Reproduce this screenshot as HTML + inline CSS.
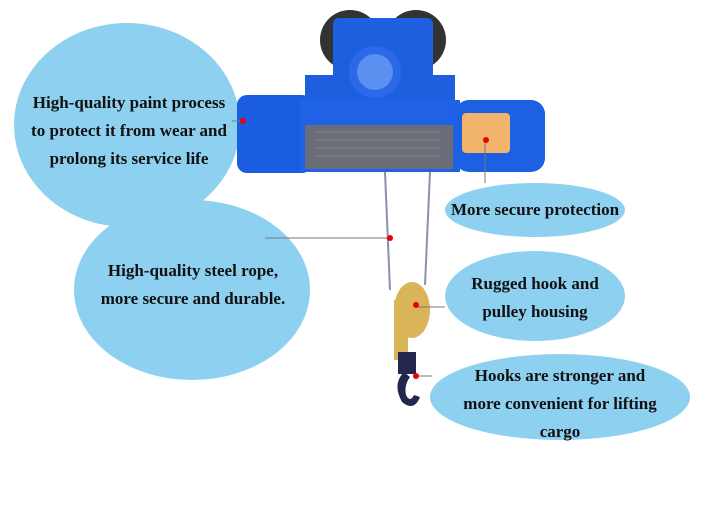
<!DOCTYPE html>
<html><head><style>
body{margin:0;background:#fff;}
.t{position:absolute;font-family:"Liberation Serif",serif;font-weight:bold;font-size:17px;color:#111;text-align:center;line-height:28px;white-space:nowrap;}
</style></head><body>
<div style="position:relative;width:724px;height:505px;overflow:hidden;">
<svg width="724" height="505" style="position:absolute;left:0;top:0">
<g fill="#8ed0f0">
<ellipse cx="127" cy="125" rx="113" ry="102"/>
<ellipse cx="192" cy="290" rx="118" ry="90"/>
<ellipse cx="535" cy="210" rx="90" ry="27"/>
<ellipse cx="535" cy="296" rx="90" ry="45"/>
<ellipse cx="560" cy="397" rx="130" ry="43"/>
</g>
<circle cx="350" cy="40" r="30" fill="#333"/>
<circle cx="416" cy="40" r="30" fill="#333"/>
<rect x="333" y="18" width="100" height="80" rx="6" fill="#1e5fe0"/>
<rect x="305" y="75" width="150" height="30" fill="#1e5fe0"/>
<circle cx="375" cy="72" r="26" fill="#2a6ae8"/>
<circle cx="375" cy="72" r="18" fill="#5b8ff0"/>
<rect x="237" y="95" width="75" height="78" rx="10" fill="#1a5de0"/>
<rect x="300" y="100" width="160" height="72" fill="#1f62e5"/>
<rect x="305" y="125" width="148" height="44" fill="#6a6d78"/>
<g stroke="#888" stroke-width="1">
<line x1="315" y1="132" x2="440" y2="132"/><line x1="315" y1="140" x2="440" y2="140"/><line x1="315" y1="148" x2="440" y2="148"/><line x1="315" y1="156" x2="440" y2="156"/>
</g>
<rect x="455" y="100" width="90" height="72" rx="14" fill="#1d60e4"/>
<rect x="462" y="113" width="48" height="40" rx="4" fill="#f2b36a"/>
<g stroke="#8a8fb0" stroke-width="2" fill="none">
<line x1="385" y1="172" x2="390" y2="290"/>
<line x1="430" y1="172" x2="425" y2="285"/>
</g>
<ellipse cx="412" cy="310" rx="18" ry="28" fill="#d9b45a"/>
<rect x="394" y="300" width="14" height="60" fill="#d9b45a"/>
<rect x="398" y="352" width="18" height="22" fill="#23264d"/>
<path d="M404 372 q-12 12 -2 30 q12 10 18 -5 l-6 -2 q-4 8 -8 0 q-2 -10 4 -18z" fill="#23264d"/>
<g stroke="#777" stroke-width="1">
<line x1="240" y1="121" x2="232" y2="121"/>
<line x1="485" y1="140" x2="485" y2="183"/>
<line x1="265" y1="238" x2="390" y2="238"/>
<line x1="414" y1="307" x2="445" y2="307"/>
<line x1="416" y1="376" x2="432" y2="376"/>
</g>
<g fill="#e00">
<circle cx="243" cy="121" r="3"/><circle cx="486" cy="140" r="3"/><circle cx="390" cy="238" r="3"/><circle cx="416" cy="305" r="3"/><circle cx="416" cy="376" r="3"/>
</g>
</svg>
<div class="t" style="left:14px;top:89px;width:230px;">High-quality paint process<br>to protect it from wear and<br>prolong its service life</div>
<div class="t" style="left:68px;top:257px;width:250px;">High-quality steel rope,<br>more secure and durable.</div>
<div class="t" style="left:445px;top:196px;width:180px;">More secure protection</div>
<div class="t" style="left:445px;top:270px;width:180px;">Rugged hook and<br>pulley housing</div>
<div class="t" style="left:430px;top:362px;width:260px;">Hooks are stronger and<br>more convenient for lifting<br>cargo</div>
</div>
</body></html>
